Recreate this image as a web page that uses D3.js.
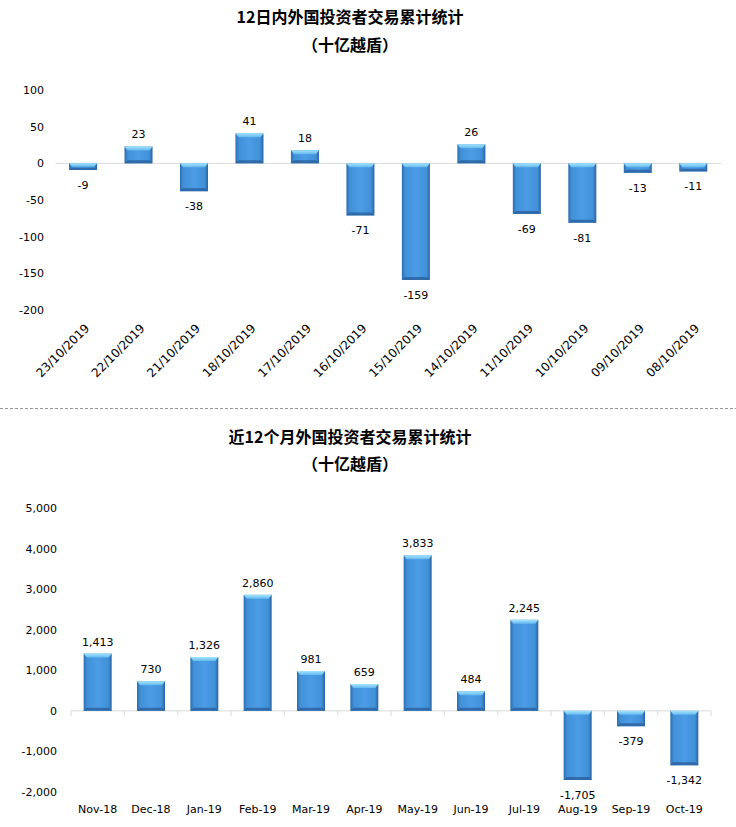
<!DOCTYPE html>
<html><head><meta charset="utf-8">
<script src="https://cdn.jsdelivr.net/npm/d3@7"></script>
<style>
body{margin:0;background:#fff;}
svg{display:block;}
</style></head>
<body>
<svg id="c" width="736" height="827"></svg>
<script>
// ---- Data ----
const title1 = "12日内外国投资者交易累计统计";
const title2 = "近12个月外国投资者交易累计统计";
const unitLabel = "（十亿越盾）";

const dailyDates = ["23/10/2019","22/10/2019","21/10/2019","18/10/2019","17/10/2019","16/10/2019","15/10/2019","14/10/2019","11/10/2019","10/10/2019","09/10/2019","08/10/2019"];
const dailyValues = [-9, 23, -38, 41, 18, -71, -159, 26, -69, -81, -13, -11];
const dailyTicks = [100, 50, 0, -50, -100, -150, -200];

const months = ["Nov-18","Dec-18","Jan-19","Feb-19","Mar-19","Apr-19","May-19","Jun-19","Jul-19","Aug-19","Sep-19","Oct-19"];
const monthValues = [1413, 730, 1326, 2860, 981, 659, 3833, 484, 2245, -1705, -379, -1342];
const monthTicks = [5000, 4000, 3000, 2000, 1000, 0, -1000, -2000];

// ---- Drawing ----
const svg = d3.select("#c");
const FONT = "'DejaVu Sans', Verdana, sans-serif";
const CJK = "'Noto Sans CJK SC', sans-serif";
const fmt = v => d3.format(",")(v).replace("\u2212","-");

const defs = svg.append("defs");
const gH = defs.append("linearGradient").attr("id","gh").attr("x1","0").attr("x2","1").attr("y1","0").attr("y2","0");
gH.append("stop").attr("offset","0").attr("stop-color","#2d6cb0");
gH.append("stop").attr("offset","0.12").attr("stop-color","#4190d8");
gH.append("stop").attr("offset","0.5").attr("stop-color","#4c9de6");
gH.append("stop").attr("offset","0.88").attr("stop-color","#4190d8");
gH.append("stop").attr("offset","1").attr("stop-color","#2a63a3");
const gT = defs.append("linearGradient").attr("id","gt").attr("x1","0").attr("x2","0").attr("y1","0").attr("y2","1");
gT.append("stop").attr("offset","0").attr("stop-color","#a5e4fc");
gT.append("stop").attr("offset","1").attr("stop-color","#62b8ee");

function barChart(opts){
  const {cats, vals, ticks, yDomain, yRange, xRange, pad, labelX, rotate, tickMarks, catY} = opts;
  const x = d3.scaleBand().domain(cats).range(xRange).paddingInner(pad).paddingOuter(pad/2);
  const y = d3.scaleLinear().domain(yDomain).range(yRange);
  const g = svg.append("g");

  const yAxis = d3.axisLeft(y).tickValues(ticks).tickSize(0).tickPadding(0).tickFormat(fmt);
  const ya = g.append("g").attr("transform",`translate(${labelX},0)`).call(yAxis);
  ya.select(".domain").remove();
  ya.selectAll("text").attr("font-family",FONT).attr("font-size",11).attr("fill","#000");

  g.append("line").attr("x1",xRange[0]).attr("x2",xRange[1]).attr("y1",y(0)).attr("y2",y(0))
    .attr("stroke","#d9d9d9").attr("stroke-width",1);
  if(tickMarks){
    const step = x.step();
    const bounds = d3.range(cats.length+1).map(i => xRange[0] + i*step);
    g.selectAll(".tm").data(bounds).join("line")
      .attr("x1",d=>d).attr("x2",d=>d).attr("y1",y(0)).attr("y2",y(0)+5)
      .attr("stroke","#d9d9d9");
  }

  const bw = x.bandwidth();
  const bars = g.selectAll(".bar").data(cats.map((c,i)=>({c, v:vals[i]}))).join("g");
  bars.each(function(d){
    const s = d3.select(this);
    const x0 = x(d.c);
    const top = Math.min(y(0), y(d.v));
    const h = Math.abs(y(d.v)-y(0));
    s.append("rect").attr("x",x0).attr("y",top).attr("width",bw).attr("height",h).attr("fill","url(#gh)");
    const bev = Math.min(4, h/2);
    s.append("path").attr("d",`M${x0},${top} L${x0+bw},${top} L${x0+bw-3},${top+bev} L${x0+3},${top+bev} Z`)
      .attr("fill","url(#gt)");
    const bot = top + h;
    const bb = Math.min(3,h/3);
    s.append("path").attr("d",`M${x0},${bot} L${x0+bw},${bot} L${x0+bw-3},${bot-bb} L${x0+3},${bot-bb} Z`)
      .attr("fill","#2a5f9c").attr("opacity",0.8);
    const cx = x0 + bw/2;
    const ly = d.v >= 0 ? y(d.v) - 8 : y(d.v) + 19;
    s.append("text").attr("x",cx).attr("y",ly).attr("text-anchor","middle")
      .attr("font-family",FONT).attr("font-size",11).attr("fill","#000").text(fmt(d.v));
  });

  cats.forEach(c => {
    const cx = x(c) + bw/2;
    if(rotate){
      g.append("text").attr("transform",`translate(${cx+7},${catY}) rotate(-45)`)
        .attr("text-anchor","end").attr("font-family",FONT).attr("font-size",12).attr("fill","#000").text(c);
    } else {
      g.append("text").attr("x",cx).attr("y",catY).attr("text-anchor","middle")
        .attr("font-family",FONT).attr("font-size",11).attr("fill","#000").text(c);
    }
  });
}

function titles(t, y1, y2){
  svg.append("text").attr("x",350).attr("y",y1).attr("text-anchor","middle")
    .attr("font-family",CJK).attr("font-weight","bold").attr("font-size",16).attr("fill","#000").text(t);
  svg.append("text").attr("x",350).attr("y",y2).attr("text-anchor","middle")
    .attr("font-family",CJK).attr("font-weight","bold").attr("font-size",16).attr("fill","#000").text(unitLabel);
}

titles(title1, 23, 51);
barChart({cats:dailyDates, vals:dailyValues, ticks:dailyTicks, yDomain:[-200,100], yRange:[310,90],
  xRange:[55.3,721], pad:0.495, labelX:44, rotate:true, tickMarks:false, catY:329});

svg.append("line").attr("x1",0).attr("x2",736).attr("y1",408.5).attr("y2",408.5)
  .attr("stroke","#999").attr("stroke-width",1).attr("stroke-dasharray","3,2");

titles(title2, 443, 470);
barChart({cats:months, vals:monthValues, ticks:monthTicks, yDomain:[-2000,5000], yRange:[792,508],
  xRange:[71,711], pad:0.475, labelX:57, rotate:false, tickMarks:true, catY:813});
</script>
</body></html>
